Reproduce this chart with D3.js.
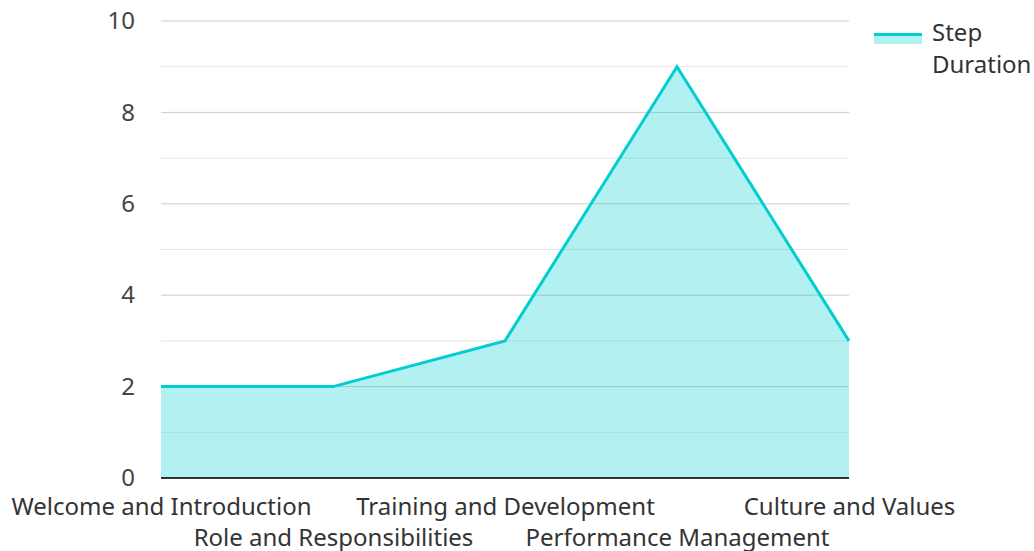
<!DOCTYPE html>
<html>
<head>
<meta charset="utf-8">
<script src="https://cdn.jsdelivr.net/npm/d3@7"></script>
<style>
  body{margin:0;background:#fff;}
  svg{display:block;font-family:"Noto Sans",sans-serif;}
</style>
</head>
<body>
<div id="chart"></div>
<script>
var categories = ['Welcome and Introduction', 'Role and Responsibilities', 'Training and Development', 'Performance Management', 'Culture and Values'];
var durations = [2, 2, 3, 9, 3];
var majorTicks = [0, 2, 4, 6, 8, 10];
var minorTicks = [1, 3, 5, 7, 9];
var seriesName = 'Step Duration';

var width = 1034, height = 551;
var margin = {left:161, right:185, top:21, bottom:73};
var color = '#00ced1';
var fontSize = '24px';

var svg = d3.select('#chart').append('svg')
    .attr('width', width)
    .attr('height', height);

var x = d3.scalePoint().domain(categories).range([margin.left, width - margin.right]);
var y = d3.scaleLinear().domain([0, 10]).range([height - margin.bottom, margin.top]);

//grid
svg.append('g').selectAll('line').data(minorTicks).enter().append('line')
    .attr('x1', margin.left).attr('x2', width - margin.right)
    .attr('y1', function(d){ return y(d); }).attr('y2', function(d){ return y(d); })
    .style('stroke', '#e6e6e6').style('stroke-width', 1);
svg.append('g').selectAll('line').data(majorTicks.slice(1)).enter().append('line')
    .attr('x1', margin.left).attr('x2', width - margin.right)
    .attr('y1', function(d){ return y(d); }).attr('y2', function(d){ return y(d); })
    .style('stroke', '#cccccc').style('stroke-width', 1);

//area + line
var area = d3.area()
    .x(function(d, i){ return x(categories[i]); })
    .y0(y(0))
    .y1(function(d){ return y(d); });
var line = d3.line()
    .x(function(d, i){ return x(categories[i]); })
    .y(function(d){ return y(d); });

svg.append('path').datum(durations)
    .attr('d', area)
    .style('fill', color).style('fill-opacity', 0.3);
svg.append('path').datum(durations)
    .attr('d', line)
    .style('fill', 'none').style('stroke', color).style('stroke-width', 3)
    .style('stroke-linejoin', 'miter');

//axis y
var axisY = d3.axisLeft(y).tickValues(majorTicks).tickSize(0).tickPadding(26);
var $axisY = svg.append('g').attr('transform', 'translate(' + margin.left + ',0)').call(axisY);
$axisY.select('.domain').remove();
$axisY.selectAll('text').style('font-size', fontSize).style('fill', '#444').style('font-family', '"Noto Sans",sans-serif');

//axis x
var axisX = d3.axisBottom(x).tickSize(0).tickPadding(0);
var $axisX = svg.append('g').attr('transform', 'translate(0,' + y(0) + ')').call(axisX);
$axisX.select('.domain').style('stroke', '#333').style('stroke-width', 2)
    .attr('d', 'M' + margin.left + ',0H' + (width - margin.right));
$axisX.selectAll('text')
    .style('font-size', fontSize).style('fill', '#333').style('font-family', '"Noto Sans",sans-serif')
    .attr('dy', null)
    .attr('y', function(d, i){ return i % 2 === 0 ? 37 : 68; });

//legend
var $legend = svg.append('g').attr('transform', 'translate(874,33)');
$legend.append('rect').attr('x', 0).attr('y', 0).attr('width', 48).attr('height', 11)
    .style('fill', color).style('fill-opacity', 0.3);
$legend.append('line').attr('x1', 0).attr('x2', 48).attr('y1', 1.5).attr('y2', 1.5)
    .style('stroke', color).style('stroke-width', 3);
var words = seriesName.split(' ');
$legend.selectAll('text.legend-name').data(words).enter().append('text')
    .attr('class', 'legend-name')
    .attr('x', 58).attr('y', function(d, i){ return 8 + i * 32; })
    .style('font-size', fontSize).style('fill', '#333')
    .text(function(d){ return d; });
</script>
</body>
</html>
